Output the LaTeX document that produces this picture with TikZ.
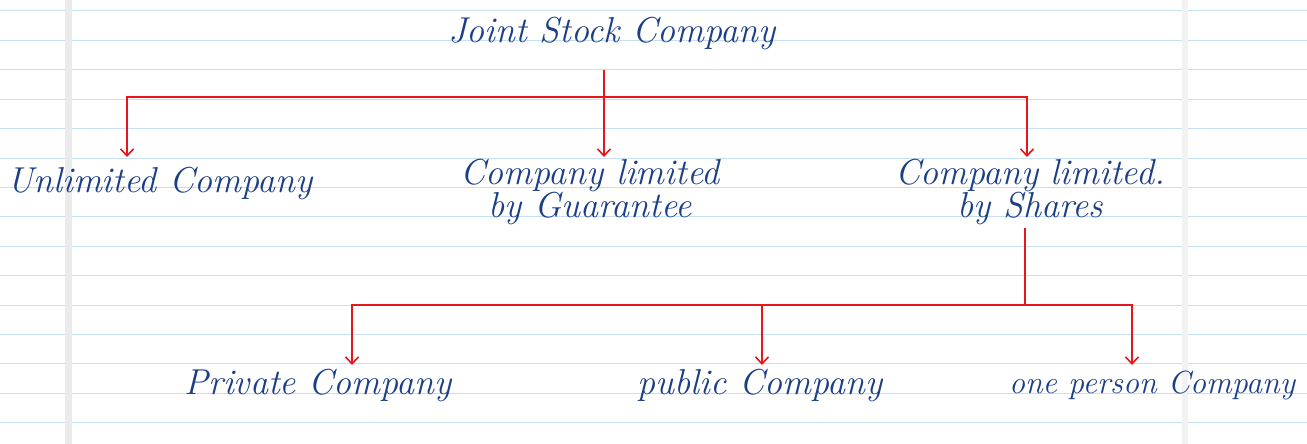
\documentclass[tikz,border=0pt]{standalone}
\usetikzlibrary{arrows.meta}
\definecolor{ink}{HTML}{1B3F86}
\definecolor{rule}{HTML}{C5E0F0}
\definecolor{arr}{HTML}{E8161B}
\begin{document}
\begin{tikzpicture}[x=1pt,y=-1pt,
  lbl/.style={text=ink,font=\itshape\fontsize{36}{30}\selectfont,align=center,inner sep=0},
  conn/.style={draw=arr,line width=1.6pt},
  arrow/.style={conn,-{Straight Barb[length=7pt,width=13pt]}}]
\fill[white] (0,0) rectangle (1307,444);
\useasboundingbox (0,0) rectangle (1307,444);
\foreach \k in {0,...,14} \draw[rule,line width=1pt] (0,{11+29.4*\k}) -- (1307,{11+29.4*\k});
\fill[black!8] (65,0) rectangle (72,444);
\fill[black!5] (1182,0) rectangle (1188,444);
\node[lbl] (root) at (612,34) {Joint Stock Company};
\node[lbl] (u) at (160,183) {Unlimited Company};
\node[lbl] (g) at (590,192) {Company limited\\ by Guarantee};
\node[lbl] (s) at (1030,192) {Company limited.\\ by Shares};
\node[lbl] (p) at (318,385) {Private Company};
\node[lbl] (pu) at (760,385) {public Company};
\node[lbl,font=\itshape\fontsize{32}{30}\selectfont] (o) at (1152,385) {one person Company};
\coordinate (t1) at (604,70);
\coordinate (j1) at (604,97);
\coordinate (a1) at (127,157);
\coordinate (a2) at (604,157);
\coordinate (a3) at (1027,157);
\draw[conn] (t1) -- (j1);
\draw[conn] (127,97) -- (1027,97);
\draw[arrow] (127,96.2) -- (a1);
\draw[arrow] (j1) -- (a2);
\draw[arrow] (1027,96.2) -- (a3);
\coordinate (t2) at (1025,228);
\coordinate (j2) at (1025,305);
\draw[conn] (t2) -- (j2);
\draw[conn] (352,305) -- (1132,305);
\draw[arrow] (352,304.2) -- (352,365);
\draw[arrow] (762,305) -- (762,365);
\draw[arrow] (1132,304.2) -- (1132,365);
\end{tikzpicture}
\end{document}
